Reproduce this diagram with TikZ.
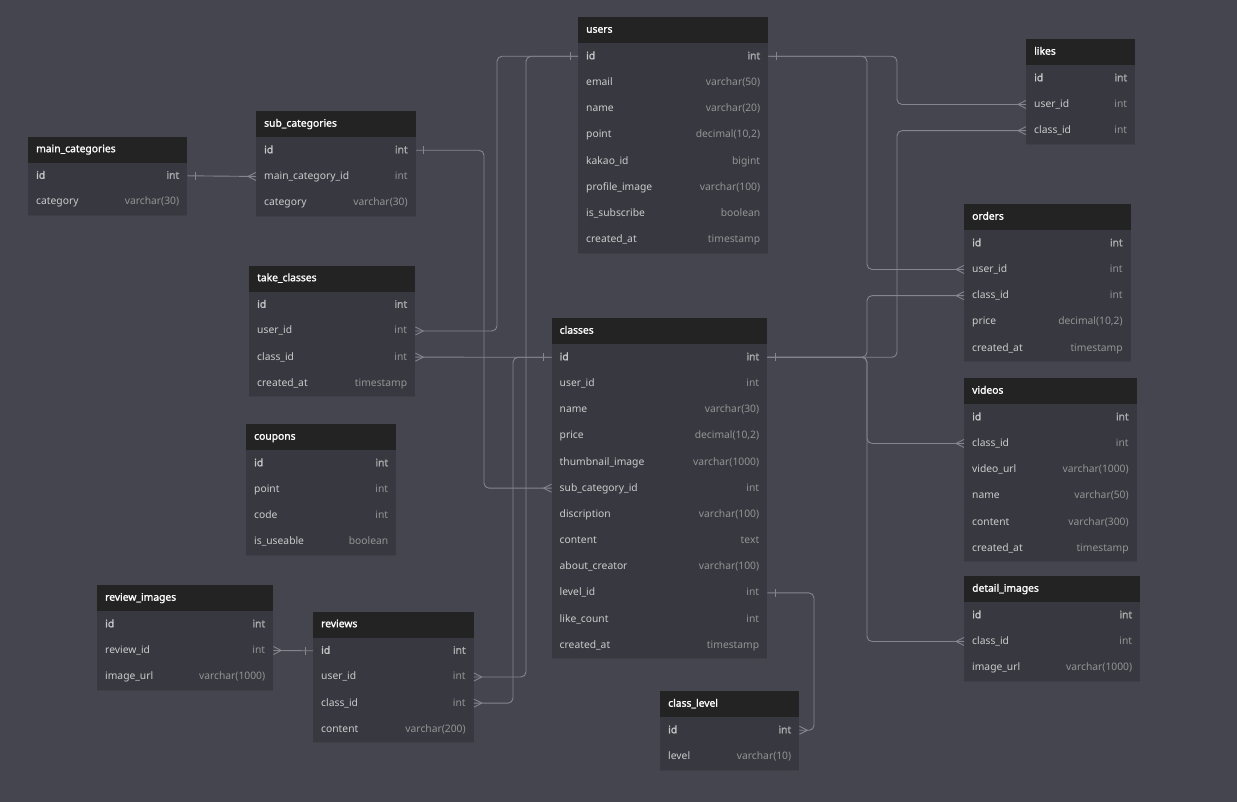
\documentclass[tikz,border=0pt]{standalone}
\usepackage{fontspec}
\setmainfont{Noto Sans}[AutoFakeBold=1.5]
\usepackage{xcolor}
\usetikzlibrary{positioning}
\catcode`\_=12

\definecolor{canvasbg}{HTML}{45454F}
\definecolor{headbg}{HTML}{232323}
\definecolor{rowbg}{HTML}{383841}
\definecolor{rowline}{HTML}{3F3F48}
\definecolor{relcolor}{HTML}{85858E}

\tikzstyle{tblhead}=[fill=headbg,text=white,font=\fontsize{10.3}{12}\selectfont\bfseries,anchor=north west,inner xsep=8pt,inner ysep=0pt,minimum height=26pt,align=left,text height=8pt,text depth=3pt]
\tikzstyle{tblrow}=[fill=rowbg,anchor=north west,inner sep=0pt,minimum height=26.18pt]
\tikzstyle{colname}=[text=black!20,font=\fontsize{10.3}{12}\selectfont,anchor=west,inner xsep=8pt,inner ysep=0pt,text height=8.5pt,text depth=2.5pt]
\tikzstyle{coltype}=[text=black!42,font=\fontsize{10.3}{12}\selectfont,anchor=east,inner xsep=8pt,inner ysep=0pt,text height=8.5pt,text depth=2.5pt]
\tikzstyle{relline}=[draw=relcolor,line width=0.9pt,rounded corners=5pt]

% name, left, top, width, rows
\newcommand{\dbtable}[5]{
  \node[tblhead,text width=#4pt-16pt] (#1) at (#2,#3) {#1};
  \foreach \colname/\coltype [count=\i] in {#5} {
    \pgfmathsetmacro{\rowy}{#3+26+(\i-1)*26.18}
    \node[tblrow,minimum width=#4pt] (#1-\colname) at (#2,\rowy) {};
    \draw[rowline] (#1-\colname.south west) -- (#1-\colname.south east);
    \ifnum\i=1
      \node[colname,text=black!22,font=\fontsize{10.3}{12}\selectfont\bfseries] at (#1-\colname.west) {\colname};
      \node[coltype,text=black!33,font=\fontsize{10.3}{12}\selectfont\bfseries] at (#1-\colname.east) {\coltype};
    \else
      \node[colname] at (#1-\colname.west) {\colname};
      \node[coltype] at (#1-\colname.east) {\coltype};
    \fi
  }
}
% from, trunk, to
\newcommand{\elbow}[3]{\draw[relline] (#1) -- (#2 |- #1) -- (#2 |- #3) -- (#3);}
% one and many ends, second argument is the side: 1 right, -1 left
\newcommand{\onemark}[2]{\draw[relline] (#1) ++(#2*8,-4) -- ++(0,8);}
\newcommand{\manymark}[2]{\draw[relline] (#1) ++(#2*8,0) -- ++(-#2*8,-4) ++(#2*8,4) -- ++(-#2*8,4);}

\begin{document}
\begin{tikzpicture}[x=1pt,y=-1pt]
\fill[canvasbg] (0,0) rectangle (1237,802);
\useasboundingbox (0,0) rectangle (1237,802);

\dbtable{main_categories}{28}{136.5}{159}{id/int,category/varchar(30)}
\dbtable{sub_categories}{256}{111}{159.5}{id/int,main_category_id/int,category/varchar(30)}
\dbtable{users}{578}{17}{190}{id/int,email/varchar(50),name/varchar(20),point/{decimal(10,2)},kakao_id/bigint,profile_image/varchar(100),is_subscribe/boolean,created_at/timestamp}
\dbtable{take_classes}{249}{265.5}{166}{id/int,user_id/int,class_id/int,created_at/timestamp}
\dbtable{classes}{551.5}{318}{215.5}{id/int,user_id/int,name/varchar(30),price/{decimal(10,2)},thumbnail_image/varchar(1000),sub_category_id/int,discription/varchar(100),content/text,about_creator/varchar(100),level_id/int,like_count/int,created_at/timestamp}
\dbtable{coupons}{246}{424}{150}{id/int,point/int,code/int,is_useable/boolean}
\dbtable{review_images}{97}{585}{176}{id/int,review_id/int,image_url/varchar(1000)}
\dbtable{reviews}{313}{611.5}{160.5}{id/int,user_id/int,class_id/int,content/varchar(200)}
\dbtable{class_level}{660}{691}{139}{id/int,level/varchar(10)}
\dbtable{likes}{1026}{39}{109}{id/int,user_id/int,class_id/int}
\dbtable{orders}{964}{204}{166.5}{id/int,user_id/int,class_id/int,price/{decimal(10,2)},created_at/timestamp}
\dbtable{videos}{964}{378}{172.5}{id/int,class_id/int,video_url/varchar(1000),name/varchar(50),content/varchar(300),created_at/timestamp}
\dbtable{detail_images}{964}{576}{176}{id/int,class_id/int,image_url/varchar(1000)}

\coordinate (trunkorders) at (867,0);
\coordinate (trunklikes) at (897,0);
\coordinate (trunktake) at (497,0);
\coordinate (trunkreviewuser) at (526,0);
\coordinate (trunkreviewclass) at (513,0);
\coordinate (trunksub) at (484,0);
\coordinate (trunklevel) at (814,0);

\draw[relline] (main_categories-id.east) -- (sub_categories-main_category_id.west);
\draw[relline] (review_images-review_id.east) -- (reviews-id.west);
\draw[relline] (classes-id.west) -- (take_classes-class_id.east);
\elbow{sub_categories-id.east}{trunksub}{classes-sub_category_id.west}
\elbow{users-id.west}{trunktake}{take_classes-user_id.east}
\elbow{users-id.west}{trunkreviewuser}{reviews-user_id.east}
\elbow{classes-id.west}{trunkreviewclass}{reviews-class_id.east}
\elbow{users-id.east}{trunkorders}{orders-user_id.west}
\elbow{users-id.east}{trunklikes}{likes-user_id.west}
\elbow{classes-id.east}{trunklikes}{likes-class_id.west}
\elbow{classes-id.east}{trunkorders}{orders-class_id.west}
\elbow{classes-id.east}{trunkorders}{videos-class_id.west}
\elbow{classes-id.east}{trunkorders}{detail_images-class_id.west}
\elbow{classes-level_id.east}{trunklevel}{class_level-id.east}

\onemark{main_categories-id.east}{1}
\onemark{sub_categories-id.east}{1}
\onemark{users-id.west}{-1}
\onemark{users-id.east}{1}
\onemark{classes-id.west}{-1}
\onemark{classes-id.east}{1}
\onemark{reviews-id.west}{-1}
\onemark{classes-level_id.east}{1}
\manymark{sub_categories-main_category_id.west}{-1}
\manymark{take_classes-user_id.east}{1}
\manymark{take_classes-class_id.east}{1}
\manymark{classes-sub_category_id.west}{-1}
\manymark{review_images-review_id.east}{1}
\manymark{reviews-user_id.east}{1}
\manymark{reviews-class_id.east}{1}
\manymark{class_level-id.east}{1}
\manymark{likes-user_id.west}{-1}
\manymark{likes-class_id.west}{-1}
\manymark{orders-user_id.west}{-1}
\manymark{orders-class_id.west}{-1}
\manymark{videos-class_id.west}{-1}
\manymark{detail_images-class_id.west}{-1}
\end{tikzpicture}
\end{document}
